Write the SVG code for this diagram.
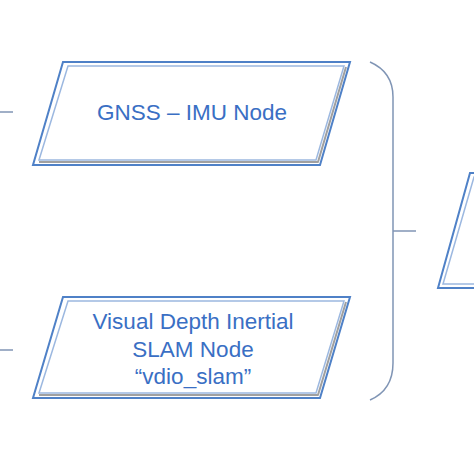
<svg xmlns="http://www.w3.org/2000/svg" width="474" height="474" viewBox="0 0 474 474">
<style>
.outer{fill:none;stroke:#4f81c7;stroke-width:2}
.inner{fill:none;stroke:#9cb8e0;stroke-width:1.5}
.shadow{fill:none;stroke:#a0a0a0;stroke-width:2;stroke-linejoin:round}
.conn{fill:none;stroke:#8095b5;stroke-width:1.5}
.lbl{font-family:"Liberation Sans",Arial,sans-serif;font-size:22.5px;fill:#3a6fc4;text-anchor:middle}
</style>
<rect width="474" height="474" fill="#ffffff"/>
<g id="connectors">
<line class="conn" x1="0" y1="112" x2="13" y2="112"/>
<line class="conn" x1="0" y1="350" x2="13" y2="350"/>
<path class="conn" d="M370,62 Q393,72 393,97 L393,363 Q393,390 370,400"/>
<line class="conn" x1="393" y1="231" x2="416" y2="231"/>
</g>
<g id="gnss-imu-node">
<polygon class="outer" points="63,62 350,62 320,165 33,165"/>
<polyline class="shadow" points="346,67 318,162 39,162"/>
<polygon class="inner" points="68,66 344,66 316,160 39,160"/>
<text class="lbl" x="192" y="120">GNSS – IMU Node</text>
</g>
<g id="vdio-slam-node">
<polygon class="outer" points="63,297 350,297 320,398 33,398"/>
<polyline class="shadow" points="346,302 318,395 39,395"/>
<polygon class="inner" points="68,301 344,301 316,393 39,393"/>
<text class="lbl" x="193" y="329">Visual Depth Inertial</text>
<text class="lbl" x="193" y="357">SLAM Node</text>
<text class="lbl" x="193" y="384">“vdio_slam”</text>
</g>
<g id="right-node">
<polygon class="outer" points="470,173 520,173 490,288 438,288"/>
<polygon class="inner" points="474,177 520,177 490,284 443,284"/>
</g>
</svg>
